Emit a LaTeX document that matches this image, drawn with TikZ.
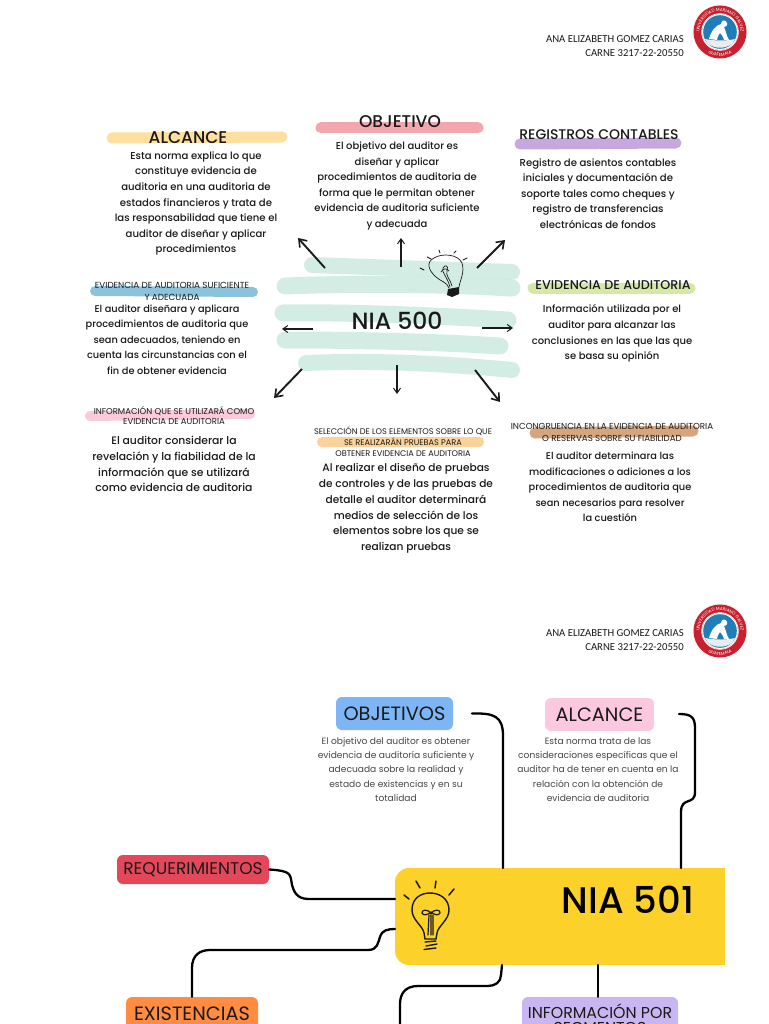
\documentclass[tikz,border=0pt]{standalone}
\usepackage{fontspec}
\setmainfont{Poppins}
\newfontfamily\carlfont{Carlito}
\newfontfamily\popmed{Poppins Medium}
\usetikzlibrary{arrows.meta,decorations.text,calc}
\definecolor{mint}{HTML}{CDEBE0}
\definecolor{ink}{HTML}{1A1A1A}
\definecolor{nyellow}{HTML}{FCD12A}
\definecolor{logored}{HTML}{C8202E}
\definecolor{logoblue}{HTML}{1F7DB8}
\tikzset{
 body/.style={align=center,text=ink,inner sep=0pt,font=\popmed\fontsize{10}{15.6}\selectfont},
 head/.style={align=center,text=ink,inner sep=0pt,font=\popmed\fontsize{17}{18}\selectfont},
 tinyhead/.style={align=center,text=ink,inner sep=0pt,font=\fontsize{8.5}{10.5}\selectfont},
 brush/.style={line cap=round,line width=#1},
 wash/.style={line cap=round,line width=#1,draw=mint,opacity=.85},
 hand/.style={draw=ink,line width=1.9pt,-{Straight Barb[length=7pt,width=10pt,line width=1.6pt]}},
 handthin/.style={draw=ink,line width=1.1pt,-{Straight Barb[length=5pt,width=7pt,line width=1pt]}},
 who/.style={align=right,anchor=east,inner sep=0pt,text=ink,font=\carlfont\fontsize{10.7}{14}\selectfont},
 mapbox/.style={rounded corners=6pt,inner sep=0pt,text=ink,align=center,font=\fontsize{19.3}{20}\selectfont},
 mapbody/.style={align=center,inner sep=0pt,text=black!72,font=\fontsize{9.1}{14.2}\selectfont},
 link/.style={draw=black,line width=2.3pt,line cap=round},
 logo/.pic={
  \begin{scope}[y=1pt,x=1pt]
   \fill[white!92!gray] (0,0) circle[radius=27.5];
   \fill[logored] (0,0) circle[radius=26.5];
   \draw[white,line width=.6pt] (0,0) circle[radius=18.4];
   \fill[white!96!yellow] (0,0) circle[radius=18];
   \fill[logoblue] (0,0) circle[radius=16.8];
   \fill[white!85!gray] (-15,-7) .. controls (-5,-9) and (7,-9) .. (15,-7) -- (12,-12) .. controls (4,-17) and (-4,-17) .. (-12,-12) -- cycle;
   \fill[white] (-11,-7) .. controls (-9,1) and (-4,7) .. (1,8) .. controls (1,12) and (6,13) .. (7,9) .. controls (8,6) and (5,5) .. (4,5) .. controls (6,1) and (6,-3) .. (9,-8) -- (4,-8) .. controls (3,-4) and (1,-2) .. (0,-1) .. controls (-2,-4) and (-3,-6) .. (-3,-8) -- cycle;
   \path[decorate,decoration={text along path,text align=center,text={|\fontsize{4.3}{5}\selectfont\color{white}|UNIVERSIDAD MARIANO GALVEZ}}] (185:20.6) arc[start angle=185,end angle=-5,radius=20.6];
   \path[decorate,decoration={text along path,text align=center,text={|\fontsize{4.3}{5}\selectfont\color{white}|GUATEMALA}}] (-135:24.2) arc[start angle=-135,end angle=-45,radius=24.2];
  \end{scope}
 }
}
\begin{document}
\begin{tikzpicture}[x=1pt,y=-1pt]
\useasboundingbox (0,0) rectangle (768,1024);
\clip (0,0) rectangle (768,1024);
\fill[white] (0,0) rectangle (768,1024);

% headers
\node[who] (who1) at (684,46) {ANA ELIZABETH GOMEZ CARIAS\\CARNE 3217-22-20550};
\pic at (720,32) {logo};
\node[who] (who2) at (684,640) {ANA ELIZABETH GOMEZ CARIAS\\CARNE 3217-22-20550};
\pic at (720,631) {logo};

% NIA 500 wash
\draw[wash=16pt] (312,265) -- (512,272);
\draw[wash=17pt] (285,286) .. controls (360,283) and (440,284) .. (512,288);
\draw[wash=17pt] (283,313) .. controls (360,312) and (440,316) .. (508,320);
\draw[wash=17pt] (285,340) .. controls (360,340) and (440,342) .. (500,346);
\draw[wash=16pt] (306,363) .. controls (380,360) and (450,364) .. (512,370);

% brushes
\draw[brush=11pt,draw=yellow!35!orange!35!white] (112,138) -- (282,137);
\draw[brush=11pt,draw={rgb,255:red,244;green,166;blue,174}] (321,128) -- (478,128);
\draw[brush=11pt,draw={rgb,255:red,198;green,168;blue,222}] (520,144) -- (676,143);
\draw[brush=11pt,draw={rgb,255:red,214;green,232;blue,168}] (533,288) -- (690,288);
\draw[brush=10pt,draw={rgb,255:red,140;green,195;blue,220}] (95,291) -- (253,292);
\draw[brush=10pt,draw={rgb,255:red,249;green,203;blue,216}] (90,416) -- (250,414);
\draw[brush=10pt,draw={rgb,255:red,250;green,210;blue,154}] (322,442) -- (479,442);
\draw[brush=11pt,draw={rgb,255:red,212;green,165;blue,126}] (535,433) -- (693,431);

% heads
\node[head] (halc) at (188,138) {ALCANCE};
\node[head] (hobj) at (400,122) {OBJETIVO};
\node[head,font=\popmed\fontsize{14}{16}\selectfont] (hreg) at (599,135) {REGISTROS CONTABLES};
\node[head,font=\popmed\fontsize{12.7}{14}\selectfont] (hevi) at (613,285) {EVIDENCIA DE AUDITORIA};
\node[tinyhead,font=\fontsize{8.8}{11.5}\selectfont] (hsuf) at (172,291.5) {EVIDENCIA DE AUDITORIA SUFICIENTE\\Y ADECUADA};
\node[tinyhead] (hinf) at (174,415.5) {INFORMACIÓN QUE SE UTILIZARÁ COMO\\EVIDENCIA DE AUDITORIA};
\node[tinyhead,font=\fontsize{8.2}{11.2}\selectfont] (hsel) at (403,442) {SELECCIÓN DE LOS ELEMENTOS SOBRE LO QUE\\SE REALIZARÁN PRUEBAS PARA\\OBTENER EVIDENCIA DE AUDITORIA};
\node[tinyhead,font=\fontsize{8.7}{12.5}\selectfont] (hinc) at (612,432.5) {INCONGRUENCIA EN LA EVIDENCIA DE AUDITORIA\\O RESERVAS SOBRE SU FIABILIDAD};

% bodies
\node[body,font=\popmed\fontsize{10.1}{15.6}\selectfont] (balc) at (196,203.5) {Esta norma explica lo que\\constituye evidencia de\\auditoria en una auditoria de\\estados financieros y trata de\\las responsabilidad que tiene el\\auditor de diseñar y aplicar\\procedimientos};
\node[body] (bobj) at (397,186) {El objetivo del auditor es\\diseñar y aplicar\\procedimientos de auditoria de\\forma que le permitan obtener\\evidencia de auditoria suficiente\\y adecuada};
\node[body,font=\popmed\fontsize{10.1}{15.6}\selectfont] (breg) at (598,193.5) {Registro de asientos contables\\iniciales y documentación de\\soporte tales como cheques y\\registro de transferencias\\electrónicas de fondos};
\node[body,font=\popmed\fontsize{9.8}{15.6}\selectfont] (bsuf) at (167,339.5) {El auditor diseñara y aplicara\\procedimientos de auditoria que\\sean adecuados, teniendo en\\cuenta las circunstancias con el\\fin de obtener evidencia};
\node[body] (bevi) at (612,333.5) {Información utilizada por el\\auditor para alcanzar las\\conclusiones en las que las que\\se basa su opinión};
\node[body,font=\popmed\fontsize{10.8}{15.8}\selectfont] (binf) at (174,464) {El auditor considerar la\\revelación y la fiabilidad de la\\información que se utilizará\\como evidencia de auditoria};
\node[body,font=\popmed\fontsize{10.6}{15.8}\selectfont] (bsel) at (406,508.5) {Al realizar el diseño de pruebas\\de controles y de las pruebas de\\detalle el auditor determinará\\medios de selección de los\\elementos sobre los que se\\realizan pruebas};
\node[body,font=\popmed\fontsize{9.8}{15.6}\selectfont] (binc) at (610,487) {El auditor determinara las\\modificaciones o adiciones a los\\procedimientos de auditoria que\\sean necesarios para resolver\\la cuestión};

% centre
\node[inner sep=0pt,text=ink,font=\popmed\fontsize{23.5}{26}\selectfont] (nia) at (397,321) {NIA 500};
\coordinate (anw) at (325,268); \coordinate (enw) at (298,238);
\coordinate (an) at (401,267);  \coordinate (en) at (401,238);
\coordinate (ane) at (477,268); \coordinate (ene) at (505,240);
\coordinate (aw) at (313,329);  \coordinate (ew) at (282,329);
\coordinate (ae) at (482,328);  \coordinate (ee) at (513,328);
\coordinate (asw) at (302,369); \coordinate (esw) at (274,398);
\coordinate (as) at (397,365);  \coordinate (es) at (397,394);
\coordinate (ase) at (475,370); \coordinate (ese) at (500,402);
\draw[hand] (anw) -- (enw);
\draw[handthin] (an) -- (en);
\draw[hand] (ane) -- (ene);
\draw[handthin] (aw) -- (ew);
\draw[handthin] (ae) -- (ee);
\draw[hand] (asw) -- (esw);
\draw[handthin] (as) -- (es);
\draw[hand] (ase) -- (ese);

% hand bulb
\begin{scope}[draw=ink,line width=.7pt,line cap=round]
 \draw (449,288) .. controls (447,282) and (440,281) .. (436,277) .. controls (428,270) and (426,262) .. (434,258) .. controls (442,253) and (458,254) .. (462,263) .. controls (465,272) and (460,280) .. (459,287);
 \draw (450,287) .. controls (447,276) and (441,272) .. (443,268) .. controls (445,264) and (449,266) .. (447,270) .. controls (445,276) and (451,280) .. (452,286);
 \draw (441,272) .. controls (443,268) and (447,268) .. (449,271);
 \draw[line width=.9pt] (420,268) -- (424,270);
 \draw[line width=.9pt] (427,257) -- (431,259);
 \draw[line width=.9pt] (439,250) -- (440,253);
 \draw[line width=.9pt] (456,251) -- (454,253);
 \draw[line width=.9pt] (467,258) -- (463,260);
 \fill[ink] (448,289) -- (459,287) -- (459,294) -- (452,297) -- (447,295) -- cycle;
\end{scope}

% NIA 501
\fill[nyellow,rounded corners=14pt] (395,868) rectangle (745,965);
\fill[white] (725,860) rectangle (768,975);
\node[inner sep=0pt,text=black,font=\popmed\fontsize{37}{38}\selectfont] (nia501) at (628,900) {NIA 501};
\coordinate (t1) at (503,868);
\coordinate (t2) at (681,868);
\coordinate (l1) at (395,899);
\coordinate (l2) at (395,929);
\coordinate (b1) at (502,965);
\coordinate (b2) at (598,965);
\coordinate (bot) at (400,1030);
\coordinate (sobj) at (472,713.5);
\coordinate (salc) at (679,714);

\node[mapbox,fill={rgb,255:red,125;green,181;blue,245},minimum width=117pt,minimum height=33pt] (mobj) at (394.5,713.5) {OBJETIVOS};
\node[mapbox,fill={rgb,255:red,251;green,200;blue,223},minimum width=109pt,minimum height=33pt] (malc) at (599.5,714.5) {ALCANCE};
\node[mapbox,fill={rgb,255:red,229;green,71;blue,90},minimum width=152pt,minimum height=29pt,font=\fontsize{17}{18}\selectfont] (mreq) at (193,869.5) {REQUERIMIENTOS};
\node[mapbox,fill={rgb,255:red,255;green,140;blue,66},minimum width=132pt,minimum height=34pt] (mexi) at (192,1014) {EXISTENCIAS};
\node[mapbox,fill={rgb,255:red,201;green,182;blue,240},minimum width=156pt,minimum height=44pt,font=\fontsize{15.8}{15}\selectfont] (mseg) at (600,1019) {INFORMACIÓN POR\\SEGMENTOS};

\node[mapbody] (tobj) at (396,769.5) {El objetivo del auditor es obtener\\evidencia de auditoría suficiente y\\adecuada sobre la realidad y\\estado de existencias y en su\\totalidad};
\node[mapbody] (talc) at (598,769.5) {Esta norma trata de las\\consideraciones específicas que el\\auditor ha de tener en cuenta en la\\relación con la obtención de\\evidencia de auditoria};

\draw[link] (sobj) .. controls (494,713) and (503,716) .. (503,736) -- (t1);
\draw[link] (salc) .. controls (691,714) and (695,717) .. (695,728) -- (695,792) .. controls (695,806) and (681,796) .. (681,812) -- (t2);
\draw[link] (mreq.east) .. controls (292,871) and (290,874) .. (292,885) .. controls (295,896) and (300,899) .. (310,899) -- (l1);
\draw[link] (mexi.north) -- (192,968) .. controls (192,955) and (200,950) .. (210,950) -- (368,950) .. controls (378,950) and (378,942) .. (380,937) .. controls (382,930) and (388,929) .. (l2);
\draw[link] (b1) -- (501,975) .. controls (501,982) and (495,986) .. (488,986) -- (418,986) .. controls (405,986) and (400,994) .. (400,1004) -- (bot);
\draw[link] (b2) -- (b2 |- mseg.north);

% flat bulb
\begin{scope}[draw=ink,line width=1.2pt,line cap=round]
 \draw[line width=1.4pt] (424,933) .. controls (423,926) and (412,920) .. (412,910) .. controls (412,898) and (421,893) .. (430,893) .. controls (440,893) and (449,899) .. (449,910) .. controls (449,920) and (438,926) .. (437,933) -- (436,939) -- (425,939) -- cycle;
 \draw (428,935) -- (429,915) (431,935) -- (431,915) (433,935) -- (433,915);
 \draw (431,914) .. controls (428,908) and (421,910) .. (422,913) .. controls (423,916) and (428,915) .. (431,912) .. controls (434,915) and (439,916) .. (440,913) .. controls (441,910) and (434,908) .. (431,914);
 \draw[line width=1.4pt] (425,942) -- (436,941) (426,946) -- (437,944) (424,949.5) -- (436,948);
 \draw[line width=1.5pt] (404,895) -- (409,899) (416,881) -- (420,888) (436,881) -- (435,888) (454,889) -- (449,895);
\end{scope}
\end{tikzpicture}
\end{document}
